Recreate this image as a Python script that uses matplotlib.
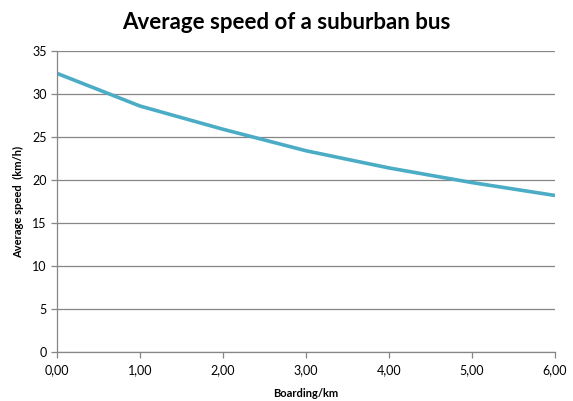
import matplotlib
matplotlib.use("Agg")
import matplotlib.pyplot as plt

boarding_km = [0, 1, 2, 3, 4, 5, 6]
avg_speed = [32.4, 28.6, 25.9, 23.4, 21.4, 19.7, 18.2]
x_ticks = [0, 1, 2, 3, 4, 5, 6]
y_ticks = [0, 5, 10, 15, 20, 25, 30, 35]

plt.rcParams["font.family"] = ["Lato", "DejaVu Sans"]

fig = plt.figure(figsize=(5.73, 4.01), dpi=100)
ax = fig.add_axes([57 / 573, 49 / 401, 498 / 573, 301 / 401])

ax.plot(boarding_km, avg_speed, color="#4BACC6", lw=2.6, solid_capstyle="butt")

ax.set_xlim(0, 6)
ax.set_ylim(0, 35)
ax.set_xticks(x_ticks)
ax.set_xticklabels([f"{v:.2f}".replace(".", ",") for v in x_ticks])
ax.set_yticks(y_ticks)
ax.grid(axis="y", color="#868686", lw=0.9)
ax.set_axisbelow(True)

for side in ("top", "right"):
    ax.spines[side].set_visible(False)
for side in ("left", "bottom"):
    ax.spines[side].set_color("#868686")
    ax.spines[side].set_linewidth(0.9)
ax.tick_params(colors="#868686", length=4, width=0.9, labelcolor="black",
               labelsize=9)
ax.tick_params(axis="x", pad=5)

ax.set_xlabel("Boarding/km", fontsize=8, fontweight="bold", labelpad=8)
ax.set_ylabel("Average speed  (km/h)", fontsize=8, fontweight="bold", labelpad=6)
fig.suptitle("Average speed of a suburban bus", fontsize=16, fontweight="bold",
             y=0.97)

fig.savefig("out.png", dpi=100)
